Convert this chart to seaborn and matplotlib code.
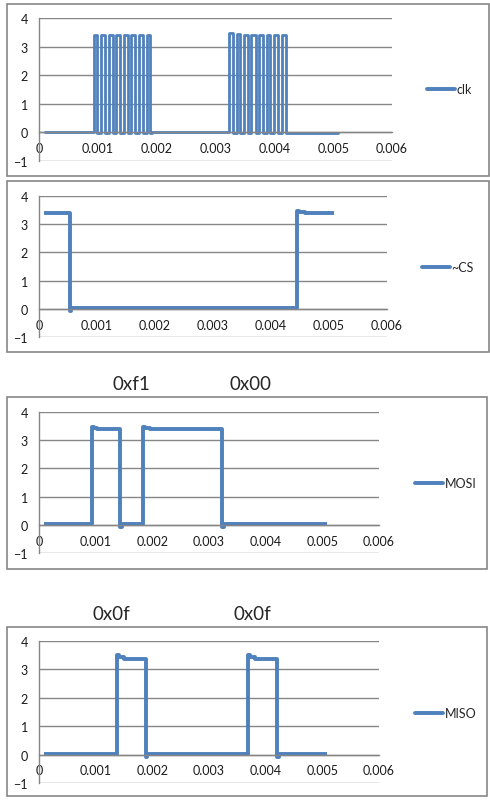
import pandas as pd
import matplotlib.pyplot as plt
import seaborn as sns
from matplotlib.patches import Rectangle
from matplotlib.lines import Line2D

sns.set_style("white")
plt.rcParams["font.family"] = ["Lato", "DejaVu Sans"]

# edge times (s)
clk_rise = [0.00093, 0.00106, 0.00119, 0.00131, 0.00144, 0.00157, 0.00170, 0.00183,
            0.00323, 0.00336, 0.00349, 0.00361, 0.00374, 0.00387, 0.00400, 0.00413]
clk_fall = [0.00099, 0.00112, 0.00125, 0.00138, 0.00151, 0.00163, 0.00176, 0.00189,
            0.00329, 0.00342, 0.00355, 0.00368, 0.00381, 0.00393, 0.00406, 0.00419]
clk_high = [3.42, 3.42, 3.42, 3.42, 3.42, 3.42, 3.42, 3.42,
            3.47, 3.43, 3.42, 3.42, 3.42, 3.42, 3.42, 3.42]

cs_t = [0.00008, 0.00053, 0.00056, 0.00444, 0.00448, 0.00458, 0.00508]
cs_v = [3.38, -0.08, 0.02, 3.48, 3.42, 3.38, 3.38]

mosi_t = [0.00008, 0.00093, 0.00097, 0.00102, 0.00143, 0.00146, 0.00183, 0.00187,
          0.00195, 0.00323, 0.00326, 0.00508]
mosi_v = [0.02, 3.48, 3.42, 3.38, -0.07, 0.02, 3.48, 3.42, 3.38, -0.07, 0.02, 0.02]

miso_t = [0.00008, 0.00137, 0.00141, 0.00150, 0.00188, 0.00191, 0.00369, 0.00373,
          0.00382, 0.00420, 0.00423, 0.00508]
miso_v = [0.02, 3.52, 3.43, 3.38, -0.07, 0.02, 3.52, 3.43, 3.38, -0.07, 0.02, 0.02]

x_ticks = [0, 0.001, 0.002, 0.003, 0.004, 0.005, 0.006]
x_labels = ["0", "0.001", "0.002", "0.003", "0.004", "0.005", "0.006"]
y_ticks = [-1, 0, 1, 2, 3, 4]

mosi_bytes = ["0xf1", "0x00"]
miso_bytes = ["0x0f", "0x0f"]


def clk_steps():
    t, v = [0.00008], [0.02]
    for r, f, h in zip(clk_rise, clk_fall, clk_high):
        t += [r, f]
        v += [h, -0.03]
    t += [0.00192, 0.00508]
    v += [0.02, 0.02]
    df = pd.DataFrame({"t": t, "v": v}).sort_values("t").reset_index(drop=True)
    return df


BLUE = "#4F81BD"
GREY = "#868686"
W, H = 490, 804

fig = plt.figure(figsize=(W / 100, H / 100), dpi=100)
fig.patch.set_facecolor("white")

# name, data, line width, (box x0, x1, y0, y1), (axes left, right@0.006, top@4, bottom@-1), legend (x, y)
panels = [
    ("clk", clk_steps(), 2.0, (7, 489, 5, 177), (39, 392, 19, 162), (427, 90)),
    ("~CS", pd.DataFrame({"t": cs_t, "v": cs_v}), 2.8, (7, 489, 182, 353), (39, 387, 197, 338), (422, 268)),
    ("MOSI", pd.DataFrame({"t": mosi_t, "v": mosi_v}), 2.8, (7, 487, 398, 570), (39, 379, 413, 554), (415, 484)),
    ("MISO", pd.DataFrame({"t": miso_t, "v": miso_v}), 2.8, (7, 487, 628, 797), (39, 379, 642, 784), (415, 714)),
]

for name, df, lw, box, area, leg in panels:
    bx0, bx1, by0, by1 = box
    fig.add_artist(Rectangle((bx0 / W, 1 - by1 / H), (bx1 - bx0) / W, (by1 - by0) / H,
                             transform=fig.transFigure, facecolor="white",
                             edgecolor=GREY, lw=1.2, zorder=0))
    l, r, t, b = area
    ax = fig.add_axes([l / W, 1 - b / H, (r - l) / W, (b - t) / H])
    ax.set_facecolor("none")
    sns.lineplot(data=df, x="t", y="v", ax=ax, color=BLUE, lw=lw,
                 drawstyle="steps-post", estimator=None, sort=False,
                 solid_capstyle="butt", solid_joinstyle="round")
    ax.set_xlim(0, 0.006)
    ax.set_ylim(-1, 4)
    ax.set_xticks(x_ticks)
    ax.set_xticklabels(x_labels)
    ax.set_yticks(y_ticks)
    ax.set_xlabel("")
    ax.set_ylabel("")
    ax.yaxis.grid(True, color=GREY, lw=1.0)
    ax.xaxis.grid(False)
    ax.set_axisbelow(True)
    for s in ["top", "right"]:
        ax.spines[s].set_visible(False)
    ax.spines["left"].set_color(GREY)
    ax.spines["bottom"].set_color(GREY)
    ax.spines["left"].set_linewidth(1.0)
    ax.spines["bottom"].set_linewidth(1.0)
    ax.spines["bottom"].set_position(("data", 0))
    ax.tick_params(axis="both", direction="out", length=3, width=1.0, color=GREY,
                   labelsize=9, labelcolor="#1a1a1a", pad=5)
    ax.tick_params(axis="x", pad=4)
    handle = Line2D([], [], color=BLUE, lw=2.8)
    ax.legend([handle], [name], loc="center left",
              bbox_to_anchor=(leg[0] / W, 1 - leg[1] / H), bbox_transform=fig.transFigure,
              frameon=False, fontsize=9, handlelength=2.2, handletextpad=0.15,
              borderpad=0, borderaxespad=0)

# byte annotations above the data charts
for label, x in zip(mosi_bytes, [131, 250]):
    fig.text(x / W, 1 - 385 / H, label, ha="center", va="center", fontsize=13.5)
for label, x in zip(miso_bytes, [111, 252]):
    fig.text(x / W, 1 - 615 / H, label, ha="center", va="center", fontsize=13.5)

fig.savefig("out.png", dpi=100)
